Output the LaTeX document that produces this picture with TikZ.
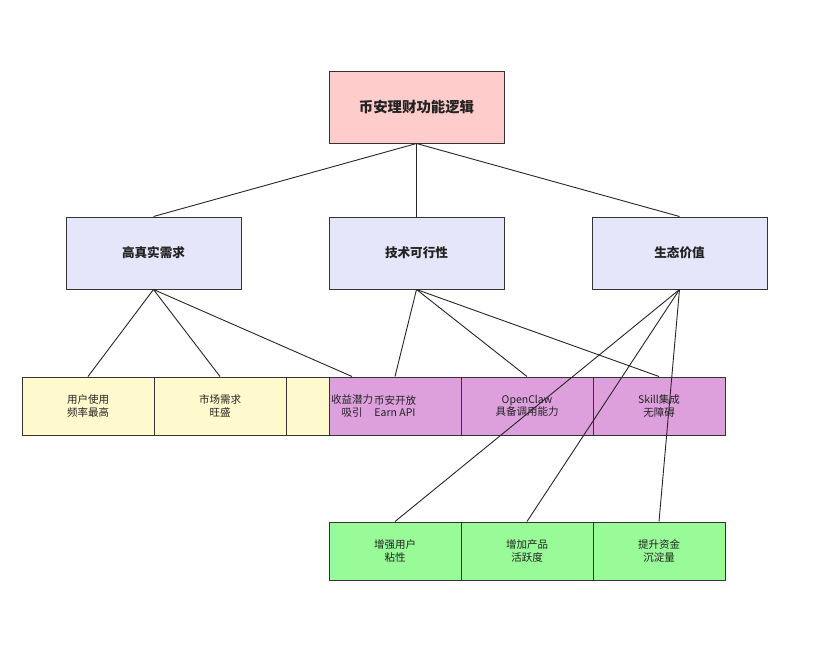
\documentclass[tikz,border=0pt]{standalone}
\usepackage{fontspec}
\setmainfont{Noto Sans CJK SC}
\definecolor{cpink}{HTML}{FFCCCC}
\definecolor{clav}{HTML}{E6E6FA}
\definecolor{cyel}{HTML}{FFFACD}
\definecolor{cplum}{HTML}{DDA0DD}
\definecolor{cgreen}{HTML}{98FB98}
\definecolor{cline}{HTML}{333333}
\definecolor{ctext}{HTML}{222222}
\tikzset{
  box/.style={draw=cline, line width=1pt, inner sep=0pt, align=center, text=ctext},
  bigbox/.style={box, minimum width=175pt, minimum height=72pt},
  smallbox/.style={box, minimum width=132pt, minimum height=58pt, font=\fontsize{10.5}{12.5}\selectfont},
  conn/.style={draw=black!85, line width=0.9pt},
}
\begin{document}
\begin{tikzpicture}[x=1pt,y=-1pt]
\useasboundingbox (0,0) rectangle (829,653);
\fill[white] (0,0) rectangle (829,653);
% level 1
\node[bigbox, fill=cpink, font=\fontsize{14.4}{16}\selectfont\bfseries] (root) at (416.5,107) {币安理财功能逻辑};
% level 2
\node[bigbox, fill=clav, font=\fontsize{12.6}{15}\selectfont\bfseries] (need) at (153.5,253) {高真实需求};
\node[bigbox, fill=clav, font=\fontsize{12.6}{15}\selectfont\bfseries] (tech) at (416.5,253) {技术可行性};
\node[bigbox, fill=clav, font=\fontsize{12.6}{15}\selectfont\bfseries] (eco) at (679.5,253) {生态价值};
% level 3 yellow
\node[smallbox, fill=cyel] (y1) at (88,406) {用户使用\\频率最高};
\node[smallbox, fill=cyel] (y2) at (220,406) {市场需求\\旺盛};
\node[smallbox, fill=cyel] (y3) at (352,406) {};
% level 3 purple
\node[smallbox, fill=cplum] (p1) at (395,406) {币安开放\\Earn API};
\node[smallbox, fill=cplum] (p2) at (527,406) {OpenClaw\\具备调用能力};
\node[smallbox, fill=cplum] (p3) at (659,406) {Skill集成\\无障碍};
\node[align=center, inner sep=0pt, text=ctext, font=\fontsize{10.5}{12.5}\selectfont] (y3t) at (y3.center) {收益潜力\\吸引};
% level 4 green
\node[smallbox, fill=cgreen] (g1) at (395,551) {增强用户\\粘性};
\node[smallbox, fill=cgreen] (g2) at (527,551) {增加产品\\活跃度};
\node[smallbox, fill=cgreen] (g3) at (659,551) {提升资金\\沉淀量};
% connectors
\draw[conn] (root.south) -- (need.north);
\draw[conn] (root.south) -- (tech.north);
\draw[conn] (root.south) -- (eco.north);
\draw[conn] (need.south) -- (y1.north);
\draw[conn] (need.south) -- (y2.north);
\draw[conn] (need.south) -- (y3.north);
\draw[conn] (tech.south) -- (p1.north);
\draw[conn] (tech.south) -- (p2.north);
\draw[conn] (tech.south) -- (p3.north);
\draw[conn] (eco.south) -- (g1.north);
\draw[conn] (eco.south) -- (g2.north);
\draw[conn] (eco.south) -- (g3.north);
\end{tikzpicture}
\end{document}
